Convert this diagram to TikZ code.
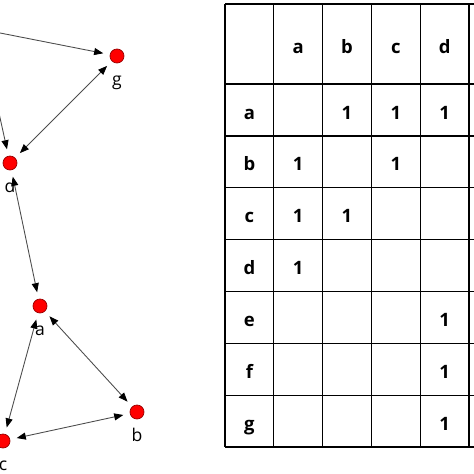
\documentclass[tikz,border=0pt]{standalone}
\usepackage{fontspec}
\setmainfont{Open Sans}
\usetikzlibrary{arrows.meta}

\begin{document}
\begin{tikzpicture}[
    x=0.02cm, y=-0.02cm,
    >={Triangle[length=5.2pt, width=4pt, color=black]},
    vertex/.style={circle, draw=red!60!black, fill=red, line width=0.4pt, minimum size=0.28cm, inner sep=0pt, outer sep=0.14cm,
        label={[font=\fontsize{10}{12}\selectfont, inner sep=0pt, text height=7.5pt, text depth=2pt, label distance=0.046cm]below:#1}},
    edge/.style={#1, line width=0.5pt, draw=black!70},
    tabline/.style={line width=0.75pt, draw=black},
    cell/.style={anchor=base, font=\bfseries\fontsize{10.5}{12}\selectfont},
]

\useasboundingbox (0,0) rectangle (474,474);
\clip (0,0) rectangle (474,474);

% ── Graph vertices ──
\node[vertex=g] (g) at (117,56) {};
\node[vertex=d] (d) at (10,163) {};
\node[vertex=a] (a) at (40,306) {};
\node[vertex=b] (b) at (137,412) {};
\node[vertex=c] (c) at (3,441) {};

% ── Edges entering from outside the frame ──
\coordinate (inG) at (-10,31);
\coordinate (inD) at (-3,104);
\draw[edge=->] (inG) -- (g);
\draw[edge=->] (inD) -- (d);

% ── Edges between vertices ──
\draw[edge=<->] (g) -- (d);
\draw[edge=<->] (d) -- (a);
\draw[edge=<->] (a) -- (b);
\draw[edge=<->] (a) -- (c);
\draw[edge=<->] (b) -- (c);

% ── Adjacency table grid ──
\foreach \col in {0,...,5}
    \draw[tabline] (225+\col*48.8,4) -- (225+\col*48.8,447);
\draw[tabline] (225,4) -- (480,4);
\foreach \row in {0,...,7}
    \draw[tabline] (225,84+\row*51.86) -- (480,84+\row*51.86);

% ── Column headers ──
\node[cell] (hA) at (298.2,53) {a};
\node[cell] (hB) at (347.0,53) {b};
\node[cell] (hC) at (395.8,53) {c};
\node[cell] (hD) at (444.6,53) {d};

% ── Row headers ──
\node[cell] (rA) at (249.4,119.0) {a};
\node[cell] (rB) at (249.4,170.9) {b};
\node[cell] (rC) at (249.4,222.7) {c};
\node[cell] (rD) at (249.4,274.6) {d};
\node[cell] (rE) at (249.4,326.4) {e};
\node[cell] (rF) at (249.4,378.3) {f};
\node[cell] (rG) at (249.4,430.1) {g};

% ── Entries ──
\node[cell] (ab) at (347.0,119.0) {1};
\node[cell] (ac) at (395.8,119.0) {1};
\node[cell] (ad) at (444.6,119.0) {1};
\node[cell] (ba) at (298.2,170.9) {1};
\node[cell] (bc) at (395.8,170.9) {1};
\node[cell] (ca) at (298.2,222.7) {1};
\node[cell] (cb) at (347.0,222.7) {1};
\node[cell] (da) at (298.2,274.6) {1};
\node[cell] (ed) at (444.6,326.4) {1};
\node[cell] (fd) at (444.6,378.3) {1};
\node[cell] (gd) at (444.6,430.1) {1};

\end{tikzpicture}
\end{document}
